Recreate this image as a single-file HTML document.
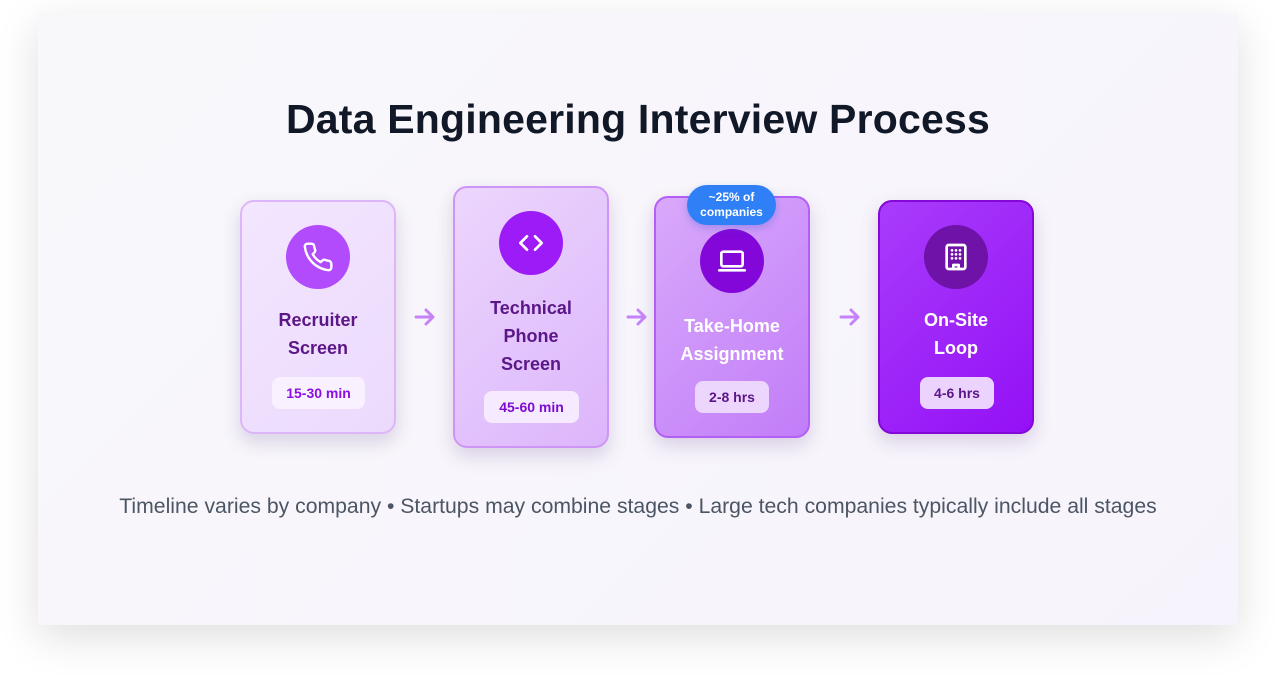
<!DOCTYPE html>
<html><head><style>
*{margin:0;padding:0;box-sizing:border-box}
body{width:1276px;height:688px;background:#fff;font-family:"Liberation Sans",sans-serif;position:relative;overflow:hidden}
.panel{position:absolute;left:38px;top:13px;width:1200px;height:612px;background:linear-gradient(135deg,#f8f8fb,#f7f3fc);box-shadow:0 12px 40px rgba(0,0,0,.13)}
h1{position:absolute;left:0;width:1276px;top:96px;text-align:center;font-size:41px;font-weight:bold;color:#111827;letter-spacing:.2px}
.card{position:absolute;width:156px;border-radius:14px;border:2px solid;box-shadow:0 8px 18px rgba(80,40,120,.18);text-align:center}
.ic{position:absolute;left:44px;width:64px;height:64px;border-radius:50%;display:flex;align-items:center;justify-content:center}
.t{position:absolute;left:-2px;width:156px;font-size:18px;font-weight:bold;line-height:28px}
.b{position:absolute;height:32px;border-radius:8px;font-size:14px;font-weight:bold;line-height:32px;text-align:center}
.arr{position:absolute;top:305px}
.foot{position:absolute;left:0;width:1276px;top:495px;text-align:center;font-size:21.2px;color:#4b5563}
</style></head><body>
<div class="panel"></div>
<h1>Data Engineering Interview Process</h1>

<div class="card" style="left:240px;top:200px;height:234px;background:linear-gradient(135deg,#f3e6fe,#ecdafd);border-color:#dcb6f8">
 <div class="ic" style="top:23px;background:#b14bfb"><svg width="32" height="32" viewBox="0 0 24 24" fill="none" stroke="#fff" stroke-width="1.8" stroke-linecap="round" stroke-linejoin="round"><path d="M22 16.9v3a2 2 0 0 1-2.2 2 19.8 19.8 0 0 1-8.6-3.1 19.5 19.5 0 0 1-6-6A19.8 19.8 0 0 1 2.1 4.2 2 2 0 0 1 4.1 2h3a2 2 0 0 1 2 1.7c.1 1 .4 1.9.7 2.8a2 2 0 0 1-.5 2.1L8 9.9a16 16 0 0 0 6 6l1.3-1.3a2 2 0 0 1 2.1-.4c.9.3 1.8.6 2.8.7a2 2 0 0 1 1.7 2z"/></svg></div>
 <div class="t" style="top:104px;color:#5b1687">Recruiter<br>Screen</div>
 <div class="b" style="left:30px;top:175px;width:93px;background:#f9f1ff;color:#8a0fe0">15-30 min</div>
</div>

<div class="card" style="left:453px;top:186px;height:262px;background:linear-gradient(135deg,#ecd6fd,#dcb5fb);border-color:#cf95f6">
 <div class="ic" style="top:23px;background:#9d1bf7"><svg width="32" height="32" viewBox="0 0 24 24" fill="none" stroke="#fff" stroke-width="2" stroke-linecap="round" stroke-linejoin="round"><path d="M9 7l-5 5 5 5M15 7l5 5-5 5"/></svg></div>
 <div class="t" style="top:106px;color:#5b1687">Technical<br>Phone<br>Screen</div>
 <div class="b" style="left:29px;top:203px;width:95px;background:#f5eaff;color:#7d0ccf">45-60 min</div>
</div>

<div class="card" style="left:654px;top:196px;height:242px;background:linear-gradient(135deg,#d9a9fb,#c17df8);border-color:#b35ef6">
 <div class="ic" style="top:31px;background:#8207d8"><svg width="32" height="32" viewBox="0 0 24 24" fill="none" stroke="#fff" stroke-width="2" stroke-linecap="round" stroke-linejoin="round"><rect x="4" y="5" width="16" height="11" rx="1.5"/><path d="M2.5 19h19"/></svg></div>
 <div class="t" style="top:114px;color:#fff">Take-Home<br>Assignment</div>
 <div class="b" style="left:39px;top:183px;width:74px;background:#ecd6fd;color:#5b1687">2-8 hrs</div>
</div>
<div style="position:absolute;left:687px;top:185px;width:89px;height:40px;border-radius:20px;background:#2f80f6;color:#fff;font-size:12px;font-weight:bold;line-height:15px;padding-top:5px;text-align:center;box-shadow:0 3px 8px rgba(40,100,200,.3)">~25% of<br>companies</div>

<div class="card" style="left:878px;top:200px;height:234px;background:linear-gradient(135deg,#a83cfb,#9410f6);border-color:#8408d8">
 <div class="ic" style="top:23px;background:#6e12a8"><svg width="32" height="32" viewBox="0 0 24 24" fill="none" stroke="#fff" stroke-width="2" stroke-linecap="round" stroke-linejoin="round"><rect x="5" y="3" width="14" height="18" rx="1.5"/><path d="M10 21v-3h4v3"/><path d="M9 7h.01M12 7h.01M15 7h.01M9 10h.01M12 10h.01M15 10h.01M9 13h.01M12 13h.01M15 13h.01"/></svg></div>
 <div class="t" style="top:104px;color:#fff">On-Site<br>Loop</div>
 <div class="b" style="left:40px;top:175px;width:74px;background:#ecd3fd;color:#5b1687">4-6 hrs</div>
</div>

<svg class="arr" style="left:413px" width="24" height="24" viewBox="0 0 24 24" fill="none" stroke="#c583f7" stroke-width="3" stroke-linecap="round" stroke-linejoin="round"><path d="M3 12h17M13 5l7 7-7 7"/></svg>
<svg class="arr" style="left:625px" width="24" height="24" viewBox="0 0 24 24" fill="none" stroke="#c583f7" stroke-width="3" stroke-linecap="round" stroke-linejoin="round"><path d="M3 12h17M13 5l7 7-7 7"/></svg>
<svg class="arr" style="left:838px" width="24" height="24" viewBox="0 0 24 24" fill="none" stroke="#c583f7" stroke-width="3" stroke-linecap="round" stroke-linejoin="round"><path d="M3 12h17M13 5l7 7-7 7"/></svg>

<div class="foot">Timeline varies by company • Startups may combine stages • Large tech companies typically include all stages</div>
</body></html>
